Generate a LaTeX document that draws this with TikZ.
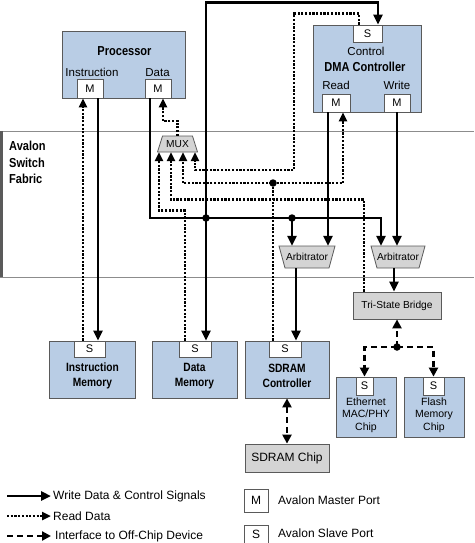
\documentclass[tikz,border=0pt]{standalone}
\usepackage{fontspec}
\setmainfont{Liberation Sans}
\newfontfamily\cond[FakeStretch=0.85]{Liberation Sans}
\usetikzlibrary{arrows.meta}
\definecolor{boxblue}{HTML}{B9CDE5}
\definecolor{boxgray}{HTML}{D4D4D4}
\definecolor{edge}{HTML}{5A5A5A}
\definecolor{fabric}{HTML}{8C8C8C}
\begin{document}
\begin{tikzpicture}[x=1pt,y=-1pt,
  blk/.style={draw=edge,line width=0.8pt,fill=boxblue,inner sep=0pt},
  gblk/.style={draw=edge,line width=0.8pt,fill=boxgray,inner sep=0pt},
  port/.style={draw=edge,line width=0.8pt,fill=white,inner sep=0pt,font=\fontsize{11}{11}\selectfont},
  ttl/.style={inner sep=0pt,font=\cond\bfseries\fontsize{13}{14}\selectfont},
  fabttl/.style={inner sep=0pt,align=left,font=\cond\bfseries\fontsize{13}{16.5}\selectfont},
  memttl/.style={inner sep=0pt,align=center,font=\cond\bfseries\fontsize{12}{15}\selectfont},
  lbl/.style={inner sep=0pt,font=\fontsize{11.5}{12}\selectfont},
  small/.style={inner sep=0pt,align=center,font=\fontsize{10.5}{12.5}\selectfont},
  trtxt/.style={inner sep=0pt,font=\fontsize{10.2}{11}\selectfont},
  leg/.style={inner sep=0pt,anchor=west,font=\fontsize{12}{12}\selectfont},
  trap/.style={draw=edge,line width=0.8pt,fill=boxgray},
  wr/.style={line width=2.7pt,-{Triangle[length=10pt,width=9pt]}},
  rd/.style={line width=2.3pt,dash pattern=on 2.2pt off 1.5pt,-{Triangle[length=9pt,width=8pt]}},
  oc/.style={line width=2.8pt,dash pattern=on 6pt off 4pt},
  octip/.style={-{Triangle[length=9pt,width=9pt]}},
  jdot/.style={circle,fill=black,inner sep=0pt,minimum size=7.5pt},
]
\useasboundingbox (0,0) rectangle (474,543);

% switch fabric band
\coordinate (fl1) at (0,131); \coordinate (fr1) at (474,131);
\coordinate (fl2) at (0,277); \coordinate (fr2) at (474,277);
\draw[fabric,line width=1pt] (fl1) -- (fr1);
\draw[fabric,line width=1pt] (fl2) -- (fr2);
\draw[edge,line width=2.5pt] ([xshift=1.25pt]fl1) -- ([xshift=1.25pt]fl2);
\node[fabttl,anchor=north west] (fabtxt) at (9,141) {Avalon\\Switch\\Fabric};

% processor
\node[blk,minimum width=123pt,minimum height=67pt] (proc) at (123.5,64.5) {};
\node[ttl] (proctxt) at (124.5,51) {Processor};
\node[lbl] (procitxt) at (92,72.5) {Instruction};
\node[lbl] (procdtxt) at (157.5,72.5) {Data};
\node[port,minimum width=26pt,minimum height=19pt] (procI) at (90,88.5) {M};
\node[port,minimum width=26pt,minimum height=19pt] (procD) at (158,88.5) {M};

% DMA controller
\node[blk,minimum width=108pt,minimum height=87pt] (dma) at (367,68.5) {};
\node[port,minimum width=29pt,minimum height=17pt] (dmaS) at (367.5,33.5) {S};
\node[lbl] (dmactl) at (366,51) {Control};
\node[ttl] (dmatxt) at (365,67) {DMA Controller};
\node[lbl] (dmard) at (336,85) {Read};
\node[lbl] (dmawr) at (397,85) {Write};
\node[port,minimum width=28pt,minimum height=18pt] (dmaR) at (336,103) {M};
\node[port,minimum width=26pt,minimum height=18pt] (dmaW) at (397,103) {M};

% memories
\node[blk,minimum width=86pt,minimum height=57pt] (imem) at (92,369.5) {};
\node[port,minimum width=31pt,minimum height=16pt] (imemS) at (89.5,349) {S};
\node[memttl] (imemtxt) at (92.5,376) {Instruction\\Memory};
\node[blk,minimum width=85pt,minimum height=57pt] (dmem) at (194.5,369.5) {};
\node[port,minimum width=32pt,minimum height=16pt] (dmemS) at (195,349) {S};
\node[memttl] (dmemtxt) at (194.5,376) {Data\\Memory};
\node[blk,minimum width=84pt,minimum height=57pt] (sdc) at (287,369.5) {};
\node[port,minimum width=32pt,minimum height=16pt] (sdcS) at (285,349) {S};
\node[memttl] (sdctxt) at (287,376) {SDRAM\\Controller};
\node[blk,minimum width=60pt,minimum height=60pt] (eth) at (366,407) {};
\node[port,minimum width=17pt,minimum height=18pt] (ethS) at (364.5,386) {S};
\node[small] (ethtxt) at (366,415) {Ethernet\\MAC/PHY\\Chip};
\node[blk,minimum width=60pt,minimum height=60pt] (flash) at (434,407) {};
\node[port,minimum width=21pt,minimum height=18pt] (flashS) at (433.5,386) {S};
\node[small] (flashtxt) at (434,415) {Flash\\Memory\\Chip};
\node[gblk,minimum width=84pt,minimum height=28pt,font=\fontsize{12}{12}\selectfont] (sdchip) at (287,458) {SDRAM Chip};
\node[gblk,minimum width=88pt,minimum height=27pt,font=\fontsize{10.2}{11}\selectfont] (bridge) at (397,305.5) {Tri-State Bridge};

% MUX and arbitrators
\draw[trap] (157.5,152) -- (197.5,152) -- (192.5,136) -- (162.5,136) -- cycle;
\node[trtxt,minimum width=40pt,minimum height=16pt] (mux) at (177.5,144) {MUX};
\draw[trap] (279,246) -- (335,246) -- (329,268) -- (285,268) -- cycle;
\node[trtxt,minimum width=56pt,minimum height=22pt] (arb1) at (307,257) {Arbitrator};
\draw[trap] (371,246) -- (425,246) -- (419,268) -- (377,268) -- cycle;
\node[trtxt,minimum width=54pt,minimum height=22pt] (arb2) at (398,257) {Arbitrator};

% helper coordinates
\coordinate (j1) at (206,218);
\coordinate (j2) at (292,218);
\coordinate (j3) at (273,183);
\coordinate (jb) at (397,347);
\coordinate (topc) at (206,2.5);
\coordinate (k1) at (294,170);
\coordinate (mi1) at ([xshift=-18.5pt]mux.south);
\coordinate (mi2) at ([xshift=-6.5pt]mux.south);
\coordinate (mi3) at ([xshift=5.5pt]mux.south);
\coordinate (mi4) at ([xshift=17.5pt]mux.south);
\coordinate (rw) at ([xshift=-8pt]dmaR.south);
\coordinate (a1o) at ([xshift=-11pt]arb1.south);
\coordinate (a2o) at ([xshift=-4pt]arb2.south);

% write data & control (solid)
\draw[wr] ([xshift=8pt]procI.south) -- ([xshift=8.5pt]imemS.north);
\draw[wr] ([xshift=-8pt]procD.south) |- (j1) -- (j2) -| ([xshift=-17pt]arb2.north);
\draw[wr] (j1) -- (topc) -| ([xshift=10.5pt]dmaS.north);
\draw[wr] (j1) -- ([xshift=11pt]dmemS.north);
\draw[wr] (j2) -- ([xshift=-15pt]arb1.north);
\draw[wr] (rw) -- (rw |- arb1.north);
\draw[wr] (dmaW.south) -- (dmaW.south |- arb2.north);
\draw[wr] (a1o) -- (a1o |- sdcS.north);
\draw[wr] (a2o) -- (a2o |- bridge.north);

% read data (dotted)
\draw[rd] ([xshift=-6.5pt]imemS.north) -- ([xshift=-7pt]procI.south);
\draw[rd] (mux.north) -- ++(0,-15) -| ([xshift=5pt]procD.south);
\draw[rd] ([xshift=-10pt]dmemS.north) -- ++(0,-130) -| (mi1);
\draw[rd] ([xshift=-33pt]bridge.north) -- ++(0,-92) -| (mi2);
\draw[rd] ([xshift=-12pt]sdcS.north) -- (j3) -| (mi3);
\draw[rd] (j3) -| ([xshift=7pt]dmaR.south);
\draw[rd] ([xshift=-8.5pt]dmaS.north) -- ++(0,-11) -| (k1) -| (mi4);

% off-chip interface (dashed)
\draw[oc,{Triangle[length=9pt,width=9pt]}-{Triangle[length=9pt,width=9pt]}] (sdc.south) -- (sdchip.north);
\draw[oc,octip] (jb) -- (jb |- bridge.south);
\draw[oc,octip] (jb) -| (ethS.north);
\draw[oc,octip] (jb) -| (flashS.north);

% junction dots
\node[jdot] (dj1) at (j1) {};
\node[jdot] (dj2) at (j2) {};
\node[jdot] (dj3) at (j3) {};
\node[jdot] (djb) at (jb) {};

% legend
\coordinate (la1) at (7,496);
\coordinate (la2) at (7,516);
\coordinate (la3) at (7,536);
\node[leg] (lt1) at (53,496) {Write Data \& Control Signals};
\node[leg] (lt2) at (53,516) {Read Data};
\node[leg] (lt3) at (55,536) {Interface to Off-Chip Device};
\draw[wr] (la1) -- ([xshift=-2pt]lt1.west);
\draw[rd] (la2) -- ([xshift=-2pt]lt2.west);
\draw[oc,octip] (la3) -- ([xshift=-4pt]lt3.west);
\node[port,minimum width=24pt,minimum height=23pt,font=\fontsize{12}{12}\selectfont] (lm) at (256,500.5) {M};
\node[leg] (lmt) at (278,500.5) {Avalon Master Port};
\node[port,minimum width=24pt,minimum height=18pt,font=\fontsize{12}{12}\selectfont] (ls) at (256,534) {S};
\node[leg] (lst) at (278,533) {Avalon Slave Port};
\end{tikzpicture}
\end{document}
